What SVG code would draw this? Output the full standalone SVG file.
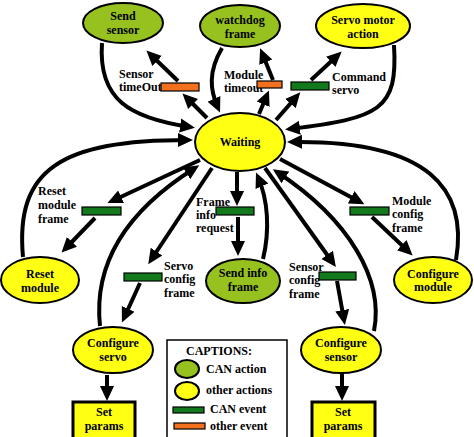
<svg xmlns="http://www.w3.org/2000/svg" width="474" height="437" viewBox="0 0 474 437">
<defs>
<style>
text{font-family:"Liberation Serif","Times New Roman",serif;font-weight:bold;font-size:12px;fill:#000}
.c{text-anchor:middle}
.can{fill:#96c11f;stroke:#000;stroke-width:2}
.oth{fill:#ffff14;stroke:#000;stroke-width:2}
.ge{fill:#127a1c;stroke:#000;stroke-width:1.2}
.oe{fill:#f2701e;stroke:#000;stroke-width:1.2}
.ln{fill:none;stroke:#000;stroke-width:4;marker-end:url(#ah)}
</style>
<marker id="ah" markerUnits="userSpaceOnUse" markerWidth="16" markerHeight="16" viewBox="0 0 16 16" refX="10" refY="8" orient="auto">
<path d="M0,1 L15,8 L0,15 z" fill="#000"/>
</marker>
</defs>
<rect width="474" height="437" fill="#fff"/>
<g id="connectors">
<path class="ln" d="M102 43 C98 100 130 118 190 127"/>
<path class="ln" d="M207 118 L186 97"/>
<path class="ln" d="M178 81 L150 54"/>
<path class="ln" d="M222 48 C208 72 210 90 218 108"/>
<path class="ln" d="M259 114 L267 95"/>
<path class="ln" d="M273 80 L262 53"/>
<path class="ln" d="M276 120 L297 96"/>
<path class="ln" d="M311 80 L338 55"/>
<path class="ln" d="M394 45 C398 110 380 118 290 129"/>
<path class="ln" d="M456 260 C468 190 430 140 292 142"/>
<path class="ln" d="M23 257 C15 170 60 140 188 140"/>
<path class="ln" d="M200 160 L112 201"/>
<path class="ln" d="M95 218 L65 249"/>
<path class="ln" d="M237 172 L237 201"/>
<path class="ln" d="M238 217 L238 251"/>
<path class="ln" d="M263 259 C270 230 268 200 258 177"/>
<path class="ln" d="M212 168 L151 260"/>
<path class="ln" d="M140 283 L124 318"/>
<path class="ln" d="M100 326 C94 270 120 215 195 168"/>
<path class="ln" d="M265 168 L333 263"/>
<path class="ln" d="M337 281 L344 320"/>
<path class="ln" d="M374 331 C384 280 350 220 277 172"/>
<path class="ln" d="M280 159 L360 202"/>
<path class="ln" d="M372 217 L409 252"/>
<path class="ln" d="M107 375 L107 396"/>
<path class="ln" d="M342 373 L342 396"/>
</g>
<g id="send-sensor"><ellipse class="can" cx="123" cy="23" rx="40" ry="20"/><text class="c" x="123" y="20">Send</text><text class="c" x="123" y="34">sensor</text></g>
<g id="watchdog-frame"><ellipse class="can" cx="240" cy="26" rx="40" ry="21"/><text class="c" x="240" y="24">watchdog</text><text class="c" x="240" y="38">frame</text></g>
<g id="servo-motor-action"><ellipse class="oth" cx="363" cy="26" rx="47" ry="22"/><text class="c" x="363" y="24">Servo motor</text><text class="c" x="363" y="38">action</text></g>
<g id="waiting"><ellipse class="oth" cx="240" cy="142" rx="45" ry="29"/><text class="c" x="240" y="146">Waiting</text></g>
<g id="reset-module"><ellipse class="oth" cx="40" cy="280" rx="39" ry="23"/><text class="c" x="40" y="278">Reset</text><text class="c" x="40" y="292">module</text></g>
<g id="send-info-frame"><ellipse class="can" cx="243" cy="281" rx="37" ry="22"/><text class="c" x="243" y="277">Send info</text><text class="c" x="243" y="291">frame</text></g>
<g id="configure-module"><ellipse class="oth" cx="433" cy="280" rx="39" ry="23"/><text class="c" x="433" y="278">Configure</text><text class="c" x="433" y="291">module</text></g>
<g id="configure-servo"><ellipse class="oth" cx="113" cy="350" rx="40" ry="23"/><text class="c" x="113" y="347">Configure</text><text class="c" x="113" y="361">servo</text></g>
<g id="configure-sensor"><ellipse class="oth" cx="341" cy="350" rx="40" ry="23"/><text class="c" x="341" y="347">Configure</text><text class="c" x="341" y="361">sensor</text></g>
<g id="set-params-servo"><rect x="73" y="402" width="62" height="37" fill="#ffff14" stroke="#000" stroke-width="3"/><text class="c" x="104" y="416">Set</text><text class="c" x="104" y="430">params</text></g>
<g id="set-params-sensor"><rect x="312" y="402" width="63" height="37" fill="#ffff14" stroke="#000" stroke-width="3"/><text class="c" x="343" y="416">Set</text><text class="c" x="343" y="430">params</text></g>
<g id="ev-sensor-timeout"><text x="119" y="78">Sensor</text><text x="119" y="91">timeOut</text><rect class="oe" x="161" y="83" width="38" height="8"/></g>
<g id="ev-module-timeout"><text x="224" y="79">Module</text><text x="224" y="92">timeout</text><rect class="oe" x="257" y="81" width="25" height="7"/></g>
<g id="ev-command-servo"><rect class="ge" x="291" y="82" width="38" height="8"/><text x="332" y="81">Command</text><text x="332" y="94">servo</text></g>
<g id="ev-reset-module-frame"><text x="38" y="195">Reset</text><text x="38" y="209">module</text><text x="38" y="223">frame</text><rect class="ge" x="82" y="207" width="39" height="8"/></g>
<g id="ev-frame-info-request"><text x="196" y="206">Frame</text><text x="196" y="219">info</text><text x="196" y="232">request</text><rect class="ge" x="216" y="207" width="38" height="8"/></g>
<g id="ev-module-config-frame"><rect class="ge" x="350" y="207" width="39" height="8"/><text x="392" y="205">Module</text><text x="392" y="218">config</text><text x="392" y="232">frame</text></g>
<g id="ev-servo-config-frame"><rect class="ge" x="124" y="273" width="38" height="8"/><text x="164" y="270">Servo</text><text x="164" y="283">config</text><text x="164" y="297">frame</text></g>
<g id="ev-sensor-config-frame"><text x="289" y="271">Sensor</text><text x="289" y="284">config</text><text x="289" y="298">frame</text><rect class="ge" x="319" y="272" width="37" height="8"/></g>
<g id="legend">
<rect x="167" y="340" width="120" height="100" fill="#fff" stroke="#000" stroke-width="1.5"/>
<text class="c" x="219" y="355">CAPTIONS:</text>
<ellipse class="can" cx="187" cy="369" rx="12" ry="9"/><text x="206" y="373">CAN action</text>
<ellipse class="oth" cx="187" cy="391" rx="12" ry="9"/><text x="206" y="394">other actions</text>
<rect class="ge" x="173" y="407" width="31" height="6"/><text x="210" y="413">CAN event</text>
<rect class="oe" x="174" y="423" width="31" height="6"/><text x="210" y="430">other event</text>
</g>
</svg>
